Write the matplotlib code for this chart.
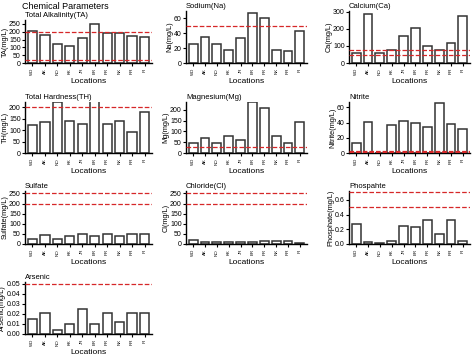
import numpy as np
import matplotlib
matplotlib.use("Agg")
import matplotlib.pyplot as plt

plt.rcParams['font.family'] = ['Liberation Sans', 'DejaVu Sans']

locations = ["WD", "AK", "NO", "KK", "JR", "BR", "PR", "NK", "RR", "IR"]

ta = [205, 180, 120, 110, 160, 250, 195, 195, 175, 165]
sodium = [25, 35, 25, 17, 33, 67, 60, 17, 16, 43]
calcium = [60, 290, 60, 75, 160, 205, 100, 75, 120, 275]
th = [120, 135, 222, 140, 125, 225, 125, 140, 90, 180]
magnesium = [45, 68, 45, 78, 60, 235, 210, 78, 45, 145]
nitrite = [13, 41, 0, 37, 42, 39, 34, 66, 38, 32]
sulfate = [25, 45, 25, 38, 48, 38, 48, 38, 48, 48]
chloride = [22, 8, 10, 8, 10, 12, 15, 13, 15, 5]
phosphate = [0.27, 0.03, 0.01, 0.04, 0.25, 0.23, 0.33, 0.13, 0.33, 0.04]
arsenic = [0.015, 0.021, 0.004, 0.010, 0.025, 0.010, 0.021, 0.012, 0.021, 0.021]

# title, ylabel, values, limit lines, ylim top, yticks
panels = [
    ("Total Alkalinity(TA)", "TA(mg/L)", ta, [200, 20], 275, [0, 50, 100, 150, 200, 250]),
    ("Sodium(Na)", "Na(mg/L)", sodium, [50], 70, [0, 20, 40, 60]),
    ("Calcium(Ca)", "Ca(mg/L)", calcium, [75, 45], 305, [0, 100, 200, 300]),
    ("Total Hardness(TH)", "TH(mg/L)", th, [200], 222, [0, 50, 100, 150, 200]),
    ("Magnesium(Mg)", "Mg(mg/L)", magnesium, [30], 237, [0, 50, 100, 150, 200]),
    ("Nitrite", "Nitrite(mg/L)", nitrite, [3, 1], 67, [0, 20, 40, 60]),
    ("Sulfate", "Sulfate(mg/L)", sulfate, [250, 200], 262, [0, 50, 100, 150, 200, 250]),
    ("Chloride(Cl)", "Cl(mg/L)", chloride, [250, 200], 262, [0, 50, 100, 150, 200, 250]),
    ("Phospahte", "Phosphate(mg/L)", phosphate, [0.7, 0.5], 0.72, [0.0, 0.2, 0.4, 0.6]),
    ("Arsenic", "Arsenic(mg/L)", arsenic, [0.05], 0.052, [0.0, 0.01, 0.02, 0.03, 0.04, 0.05]),
]

W, H = 474, 355
fig = plt.figure(figsize=(W / 100, H / 100), dpi=100)

col_x = [(25, 152), (186, 307), (349, 470)]
row_y = [(20, 63), (102, 153), (191, 244), (282, 334)]

for i, (title, ylab, vals, lines, ytop, yt) in enumerate(panels):
    r, c = divmod(i, 3)
    x0, x1 = col_x[c]
    y0, y1 = row_y[r]
    if r == 0 and c > 0:
        y0 = 11
    ax = fig.add_axes([x0 / W, 1 - y1 / H, (x1 - x0) / W, (y1 - y0) / H])
    ax.bar(np.arange(len(vals)), vals, width=0.75, color="white",
           edgecolor="#333333", linewidth=1.1, zorder=2)
    for v in lines:
        ax.axhline(v, color="#d62728", linestyle="--", linewidth=0.9, zorder=3)
    ax.set_xlim(-0.6, len(vals) - 0.4)
    ax.set_ylim(0, ytop)
    ax.set_yticks(yt)
    ax.set_xticks(np.arange(len(vals)))
    ax.set_xticklabels(locations, rotation=90, fontsize=3.2)
    ax.tick_params(axis="y", labelsize=5, length=2, width=0.8, pad=1)
    ax.tick_params(axis="x", length=2, width=0.8, pad=1.5)
    for s in ["top", "right"]:
        ax.spines[s].set_visible(False)
    for s in ["left", "bottom"]:
        ax.spines[s].set_linewidth(1.0)
    ax.set_ylabel(ylab, fontsize=5.3, labelpad=0.5)
    ax.set_xlabel("Locations", fontsize=6, labelpad=2)
    ax.text(0.0, 1.02, title, transform=ax.transAxes, fontsize=5.5,
            ha="left", va="bottom")
    if r == 0 and c == 0:
        ax.text(-0.02, 1.22, "Chemical Parameters", transform=ax.transAxes,
                fontsize=6.5, ha="left", va="bottom")

fig.savefig("out.png", dpi=100)
